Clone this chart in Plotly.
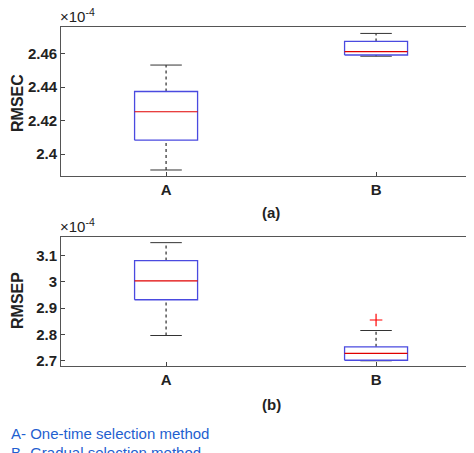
import plotly.graph_objects as go

cats = ["A", "B"]
# top panel RMSEC (x1e-4)
c_low = [2.3905, 2.4585]
c_q1 = [2.4083, 2.4592]
c_med = [2.4253, 2.4612]
c_q3 = [2.4374, 2.4673]
c_high = [2.4532, 2.4721]
c_out = [[], []]
# bottom panel RMSEP (x1e-4)
p_low = [2.796, 2.700]
p_q1 = [2.932, 2.702]
p_med = [3.004, 2.728]
p_q3 = [3.081, 2.753]
p_high = [3.149, 2.815]
p_out = [[], [2.855]]

fig = go.Figure()
HW, CW = 0.15, 0.075
def add_boxes(low, q1, med, q3, high, outs, xa, ya):
    for i, _ in enumerate(cats):
        x = i + 1
        kw = dict(xaxis=xa, yaxis=ya, mode="lines", showlegend=False, hoverinfo="skip")
        fig.add_trace(go.Scatter(x=[x, x, None, x, x], y=[low[i], q1[i], None, q3[i], high[i]],
                                 line=dict(color="black", width=1, dash="dot"), **kw))
        fig.add_trace(go.Scatter(x=[x-CW, x+CW, None, x-CW, x+CW], y=[low[i], low[i], None, high[i], high[i]],
                                 line=dict(color="#333", width=1), **kw))
        fig.add_trace(go.Scatter(x=[x-HW, x+HW, x+HW, x-HW, x-HW], y=[q1[i], q1[i], q3[i], q3[i], q1[i]],
                                 line=dict(color="#4a4ae0", width=1.3), **kw))
        fig.add_trace(go.Scatter(x=[x-HW, x+HW], y=[med[i], med[i]],
                                 line=dict(color="#e00000", width=1.2), **kw))
        if outs[i]:
            fig.add_trace(go.Scatter(x=[x]*len(outs[i]), y=outs[i], mode="markers", xaxis=xa, yaxis=ya,
                                     marker=dict(symbol="cross-thin", size=9, line=dict(color="red", width=1.2)),
                                     showlegend=False))

add_boxes(c_low, c_q1, c_med, c_q3, c_high, c_out, "x", "y")
add_boxes(p_low, p_q1, p_med, p_q3, p_high, p_out, "x2", "y2")

tf = dict(family="Liberation Sans, Arial", size=15, color="#222")
font = dict(family="Liberation Sans, Arial", size=15, color="#222")
xcommon = dict(range=[0.5, 2.5], tickvals=[1, 2], ticktext=["<b>A</b>", "<b>B</b>"], ticks="inside", ticklen=4,
               showline=True, mirror=True, linecolor="#555", showgrid=False, zeroline=False, tickfont=tf)
ycommon = dict(ticks="inside", ticklen=4, showline=True, mirror=True, linecolor="#555",
               showgrid=False, zeroline=False, tickfont=tf)
fig.update_layout(
    width=474, height=453, margin=dict(l=0, r=0, t=0, b=0),
    plot_bgcolor="white", paper_bgcolor="white", font=font,
    xaxis=dict(domain=[0.112, 0.998], anchor="y", **xcommon),
    yaxis=dict(domain=[0.627, 0.958], anchor="x", range=[2.387, 2.476],
               tickvals=[2.40, 2.42, 2.44, 2.46], ticktext=["<b>2.4</b>", "<b>2.42</b>", "<b>2.44</b>", "<b>2.46</b>"],
               **ycommon),
    xaxis2=dict(domain=[0.112, 0.998], anchor="y2", **xcommon),
    yaxis2=dict(domain=[0.205, 0.492], anchor="x2", range=[2.681, 3.172],
                tickvals=[2.7, 2.8, 2.9, 3.0, 3.1], ticktext=["<b>2.7</b>", "<b>2.8</b>", "<b>2.9</b>", "<b>3</b>", "<b>3.1</b>"],
                **ycommon),
)
ann = [
    dict(x=0.105, y=0.958, text="×10<sup>-4</sup>", xanchor="left", yanchor="bottom", font=dict(size=15)),
    dict(x=0.105, y=0.492, text="×10<sup>-4</sup>", xanchor="left", yanchor="bottom", font=dict(size=15)),
    dict(x=0.02, y=0.79, text="<b>RMSEC</b>", textangle=-90, font=dict(size=16)),
    dict(x=0.02, y=0.35, text="<b>RMSEP</b>", textangle=-90, font=dict(size=16)),
    dict(x=0.555, y=1-206/453, text="<b>(a)</b>", font=dict(size=15)),
    dict(x=0.555, y=1-399/453, text="<b>(b)</b>", font=dict(size=15)),
    dict(x=0.002, y=1-428/453, text="A- One-time selection method", xanchor="left",
         font=dict(size=15, color="#1f5fd0")),
    dict(x=0.002, y=1-447/453, text="B- Gradual selection method", xanchor="left",
         font=dict(size=15, color="#1f5fd0")),
]
for a in ann:
    a.setdefault("xanchor", "center")
    a.setdefault("yanchor", "middle")
    fig.add_annotation(xref="paper", yref="paper", showarrow=False, **a)
fig.write_html("out.html")
